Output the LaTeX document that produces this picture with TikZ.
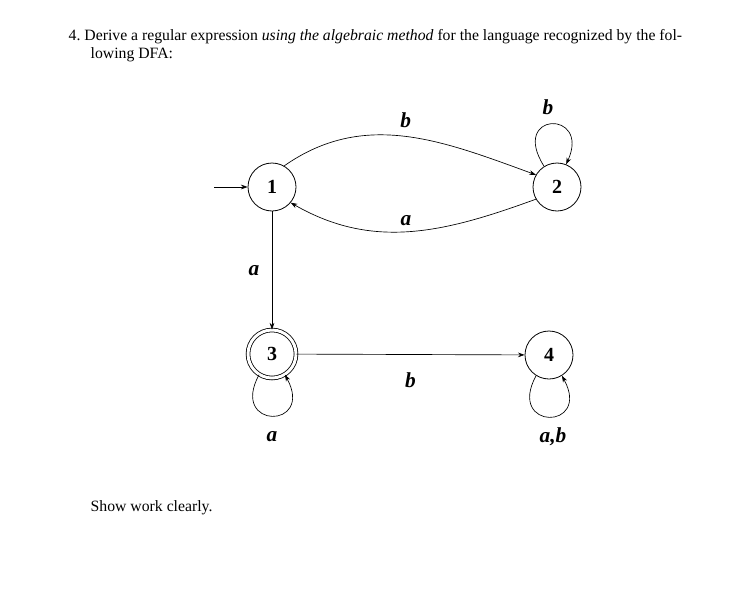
\documentclass[tikz,border=0pt]{standalone}
\usepackage{fontspec}
\setmainfont{Liberation Serif}
\usetikzlibrary{arrows.meta}
\begin{document}
\begin{tikzpicture}[x=0.75pt,y=-0.75pt,
  st/.style={circle,draw,line width=0.6pt,minimum size=36pt,inner sep=0pt,font=\fontsize{15}{15}\selectfont\bfseries},
  acc/.style={st,double,double distance=2.2pt},
  lab/.style={font=\fontsize{16}{16}\selectfont\bfseries\itshape},
  edge/.style={line width=0.5pt,-{Stealth[length=5pt,width=3.5pt]}},
  txt/.style={font=\fontsize{11.8}{13.5}\selectfont,anchor=west}]
\useasboundingbox (0,0) rectangle (734,610);
\node[txt] (t1) at (64,37) {4.\ Derive a regular expression \textit{using the algebraic method} for the language recognized by the fol-};
\node[txt] (t2) at (86,55) {lowing DFA:};
\node[txt] (t3) at (86,508) {Show work clearly.};
\node[st] (s1) at (272,187) {1};
\node[st] (s2) at (557,187) {2};
\node[acc] (s3) at (272,354) {3};
\node[st] (s4) at (549,355) {4};
\coordinate (start) at (214,187);
\draw[edge] (start) -- (s1);
\draw[edge] (s1.60) to[out=35,in=160] node[lab,above=3pt] {b} (s2.150);
\draw[edge] (s2.210) to[out=200,in=-30] node[lab,above=1pt,pos=0.52] {a} (s1.320);
\draw[edge] (s2.122) .. controls +(-35,-55) and +(25,-55) .. (s2.68);
\node[lab] (lb2) at (548,107) {b};
\draw[edge] (s1) -- node[lab,left=6pt] {a} (s3);
\draw[edge] (s3) -- node[lab,below=10pt] {b} (s4);
\draw[edge] (s3.238) .. controls +(-30,55) and +(30,55) .. (s3.302);
\node[lab] (la3) at (272,437) {a};
\draw[edge] (s4.238) .. controls +(-30,55) and +(30,55) .. (s4.302);
\node[lab] (la4) at (553,437) {a,b};
\end{tikzpicture}
\end{document}
